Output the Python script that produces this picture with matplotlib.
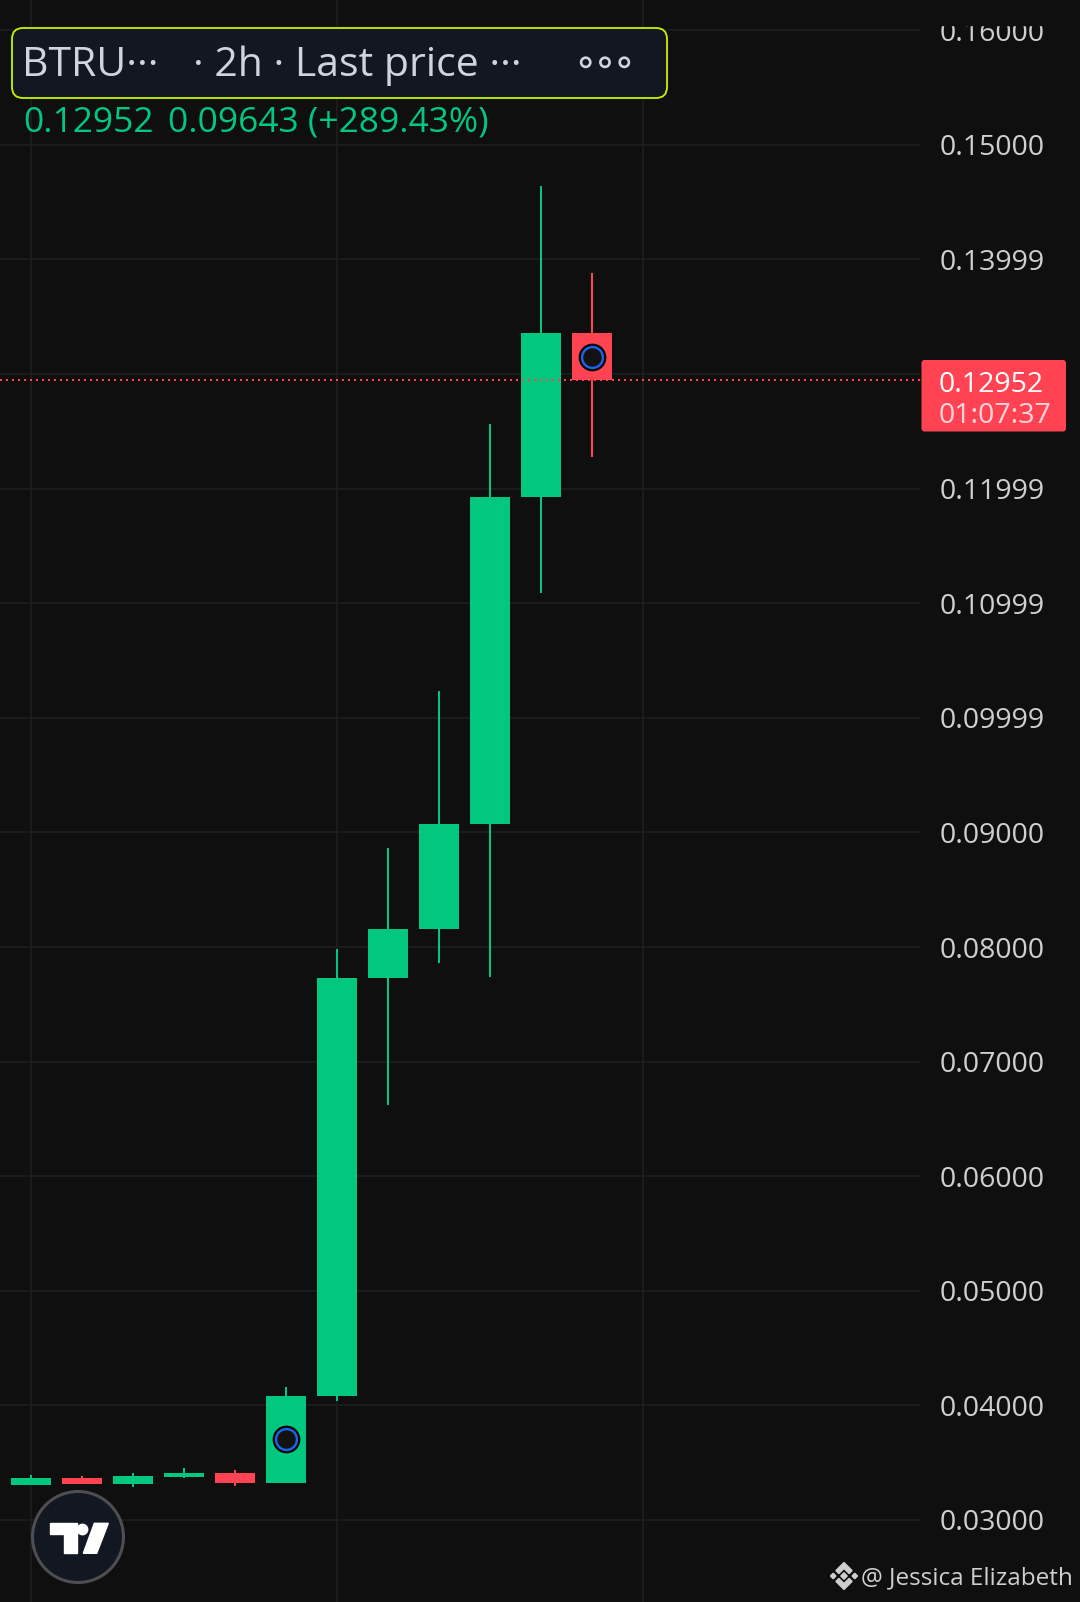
import numpy as np
import matplotlib
matplotlib.use('Agg')
import matplotlib.pyplot as plt
from matplotlib.patches import FancyBboxPatch, Rectangle, Circle, Polygon

## Candle data (2h bars)

idx = np.arange(12)
opens = [0.03309, 0.03367, 0.03315, 0.03376, 0.03411, 0.03323,
         0.04082, 0.07730, 0.08160, 0.09070, 0.11930, 0.13360]
closes = [0.03367, 0.03315, 0.03385, 0.03411, 0.03323, 0.04082,
          0.07730, 0.08160, 0.09070, 0.11930, 0.13360, 0.12952]
highs = [0.03393, 0.03385, 0.03411, 0.03455, 0.03437, 0.04163,
         0.07980, 0.08860, 0.10230, 0.12560, 0.14640, 0.13880]
lows = [0.03309, 0.03315, 0.03288, 0.03367, 0.03297, 0.03323,
        0.04040, 0.06620, 0.07860, 0.07740, 0.11090, 0.12280]

# blue circle markers on two candles
mark_x = [5, 11]
mark_y = [0.0371, 0.1315]

last_price = 0.12952
countdown = '01:07:37'

price_ticks = [0.03, 0.04, 0.05, 0.06, 0.07, 0.08, 0.09, 0.10, 0.11,
               0.12, 0.13, 0.14, 0.15, 0.16]
# the 0.13 label sits under the last-price tag, so it is left blank
price_labels = ['0.03000', '0.04000', '0.05000', '0.06000', '0.07000',
                '0.08000', '0.09000', '0.09999', '0.10999', '0.11999',
                '', '0.13999', '0.15000', '0.16000']

header_title = 'BTRU\u00b7\u00b7\u00b7'
header_rest = '\u00b7 2h \u00b7 Last price \u00b7\u00b7\u00b7'
header_close = '0.12952'
header_change = '0.09643 (+289.43%)'
credit = '@ Jessica Elizabeth'

## Colours

bg = '#0F0F0F'
grid_c = '#1E1E1E'
green = '#02C77F'
red = '#FF4352'
label_c = '#CFCFCF'

plt.rcParams['font.family'] = ['Open Sans', 'DejaVu Sans']

W, H = 1080, 1602
fig = plt.figure(figsize=(W / 100, H / 100), dpi=100, facecolor=bg)

# main chart axes, right edge at x=920 px
ax = fig.add_axes([0, 0, 920 / W, 1])
ax.set_facecolor(bg)
ax.set_xlim((0 - 31) / 51, (920 - 31) / 51)
ax.set_ylim(0.03 - 82 / 11460, 0.03 + 1520 / 11460)

for s in ax.spines.values():
    s.set_visible(False)
ax.set_xticks([])
ax.set_yticks(price_ticks)
ax.set_yticklabels(price_labels)
ax.yaxis.tick_right()
ax.tick_params(axis='y', length=0, pad=14.4, labelsize=20.5, labelcolor=label_c)

# grid
for p in price_ticks:
    ax.axhline(p, color=grid_c, lw=1.2, zorder=0)
for gx in [0, 6, 12]:
    ax.axvline(gx, color=grid_c, lw=1.2, zorder=0)

# candles
cols = [green if c >= o else red for o, c in zip(opens, closes)]
ax.vlines(idx, lows, highs, colors=cols, lw=1.44, zorder=2)
bottoms = np.minimum(opens, closes)
heights = np.abs(np.array(closes) - np.array(opens))
ax.bar(idx, heights, bottom=bottoms, width=40 / 51, color=cols, zorder=3)

# last price line
ax.axhline(last_price, color=red, lw=1.44, ls=(0, (1, 2)), zorder=4)

# markers
ax.scatter(mark_x, mark_y, s=360, color='#080808', zorder=5)
ax.scatter(mark_x, mark_y, s=225, facecolor='#121212', edgecolor='#1E63E8',
           lw=1.7, zorder=6)

## Overlay in pixel coordinates for the UI parts

ov = fig.add_axes([0, 0, 1, 1], zorder=10)
ov.set_xlim(0, W)
ov.set_ylim(H, 0)
ov.axis('off')
ov.patch.set_alpha(0)

# top strip hides the upper half of the 0.16000 label
ov.add_patch(Rectangle((925, 0), 155, 25, color=bg, zorder=1))

# header box
ov.add_patch(FancyBboxPatch((12, 28), 655, 70,
                            boxstyle='round,pad=0,rounding_size=11',
                            facecolor='#131722', edgecolor='#C8F400', lw=1.3, zorder=2))
ov.text(22, 75.5, header_title, fontsize=29.5, color='#D1D4DC', zorder=3)
ov.text(193, 75.5, header_rest, fontsize=29.5, color='#D1D4DC', zorder=3)
for cx in [585.7, 605, 624.3]:
    ov.add_patch(Circle((cx, 62.3), 4.6, facecolor='none', edgecolor='#D1D4DC',
                        lw=1.9, zorder=3))

ov.text(23, 131.5, header_close, fontsize=25.5, color=green, zorder=3)
ov.text(168, 131.5, header_change, fontsize=25.5, color=green, zorder=3)

# price label on the axis
ov.add_patch(FancyBboxPatch((921.5, 360), 144.5, 71.5,
                            boxstyle='round,pad=0,rounding_size=3',
                            facecolor=red, edgecolor='none', zorder=2))
ov.text(939, 391.7, '%.5f' % last_price, fontsize=20.5, color='white', zorder=3)
ov.text(939, 423, countdown, fontsize=20.5, color='#FFD6DA', zorder=3)

# TradingView logo badge
ov.add_patch(Circle((78, 1537), 45.5, facecolor='#131722', edgecolor='#4D4D52',
                    lw=2.2, zorder=2))
ov.add_patch(Polygon([(50, 1523.3), (77.3, 1523.3), (77.3, 1553.3), (64, 1553.3),
                      (64, 1534), (50, 1534)], closed=True, color='white', zorder=3))
ov.add_patch(Circle((82.5, 1529.5), 5.2, color='white', zorder=3))
ov.add_patch(Polygon([(94.3, 1523.3), (108.3, 1523.3), (96.7, 1553.3), (83.3, 1553.3)],
                     closed=True, color='white', zorder=3))

# credit with small diamond icon
icx, icy, r = 844, 1576, 13.5
ic = '#CFCFCF'
ov.add_patch(Polygon([(icx, icy - 0.24 * r), (icx + 0.24 * r, icy), (icx, icy + 0.24 * r),
                      (icx - 0.24 * r, icy)], closed=True, color=ic, zorder=3))
for dx in [-0.8 * r, 0.8 * r]:
    ov.add_patch(Polygon([(icx + dx, icy - 0.2 * r), (icx + dx + 0.2 * r, icy),
                          (icx + dx, icy + 0.2 * r), (icx + dx - 0.2 * r, icy)],
                         closed=True, color=ic, zorder=3))
for sg in [-1, 1]:
    ov.add_patch(Polygon([(icx, icy + sg * r), (icx + 0.6 * r, icy + sg * 0.4 * r),
                          (icx + 0.38 * r, icy + sg * 0.18 * r), (icx, icy + sg * 0.56 * r),
                          (icx - 0.38 * r, icy + sg * 0.18 * r), (icx - 0.6 * r, icy + sg * 0.4 * r)],
                         closed=True, color=ic, zorder=3))
ov.text(861, 1584.3, credit, fontsize=17.5, color=ic, zorder=3)

fig.savefig('out.png', dpi=100, facecolor=bg)
